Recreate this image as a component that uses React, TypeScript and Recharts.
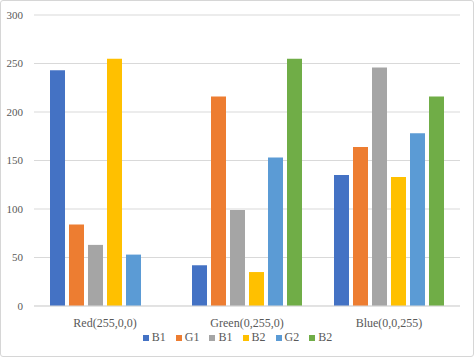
import React from "react";
import { BarChart, Bar, XAxis, YAxis, CartesianGrid, Legend } from "recharts";

const categories = ["Red(255,0,0)", "Green(0,255,0)", "Blue(0,0,255)"];
const seriesNames = ["B1", "G1", "B1", "B2", "G2", "B2"];
const COLORS = ["#4472C4", "#ED7D31", "#A5A5A5", "#FFC000", "#5B9BD5", "#70AD47"];

const b1 = [243, 42, 135];
const g1 = [84, 216, 164];
const b1b = [63, 99, 246];
const b2 = [255, 35, 133];
const g2 = [53, 153, 178];
const b2b = [0, 255, 216];

const seriesValues = [b1, g1, b1b, b2, g2, b2b];
const yTicks = [0, 50, 100, 150, 200, 250, 300];

const data = categories.map((name, i) => {
  const row: Record<string, string | number> = { name };
  seriesValues.forEach((vals, s) => {
    row["s" + s] = vals[i];
  });
  return row;
});

const FONT = "Liberation Serif, Times New Roman, serif";

export default function App() {
  return (
    <div
      style={{
        width: 472,
        height: 355,
        border: "1px solid #d6d6d6",
        borderRadius: 3,
        background: "#fff",
        fontFamily: FONT,
        position: "absolute",
        left: 0,
        top: 0,
      }}
    >
      <style>{".recharts-text, .recharts-legend-item-text { font-family: 'Liberation Serif', serif !important; }"}</style>
      <BarChart
        width={472}
        height={355}
        data={data}
        margin={{ top: 14, right: 13, left: 0, bottom: 6 }}
        barCategoryGap={16}
        barGap={4}
        style={{ fontFamily: FONT }}
      >
        <CartesianGrid vertical={false} stroke="#d9d9d9" />
        <XAxis
          dataKey="name"
          tickLine={false}
          axisLine={{ stroke: "#d9d9d9" }}
          tick={{ fill: "#595959", fontSize: 12, fontFamily: FONT }}
          tickMargin={6}
          height={24}
        />
        <YAxis
          width={33}
          domain={[0, 300]}
          ticks={yTicks}
          axisLine={false}
          tickLine={false}
          tick={{ fill: "#595959", fontSize: 11, fontFamily: FONT }}
          tickMargin={5}
        />
        <Legend
          verticalAlign="bottom"
          align="center"
          iconType="square"
          iconSize={6}
          height={20}
          itemSorter="dataKey"
          wrapperStyle={{ fontSize: 12, fontFamily: FONT, color: "#595959", paddingLeft: 12, whiteSpace: "nowrap" }}
          formatter={(value) => (
            <span style={{ color: "#595959", marginLeft: -1, whiteSpace: "nowrap" }}>{value}</span>
          )}
        />
        {seriesNames.map((n, s) => (
          <Bar
            key={s}
            dataKey={"s" + s}
            name={n}
            fill={COLORS[s]}
            isAnimationActive={false}
          />
        ))}
      </BarChart>
    </div>
  );
}
